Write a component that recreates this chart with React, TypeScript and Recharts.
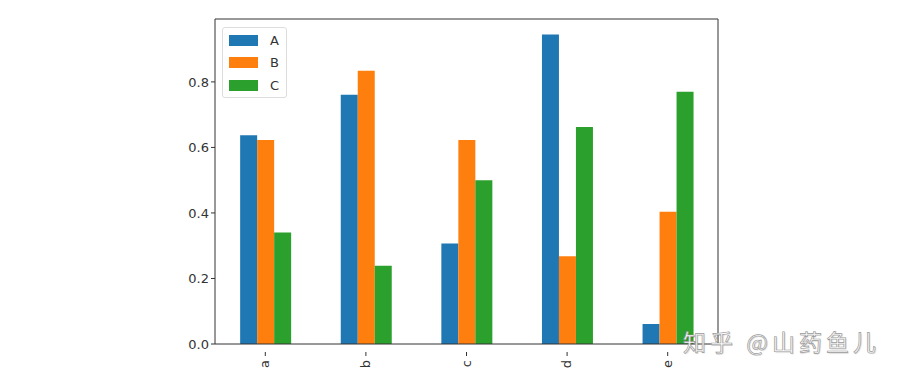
import React from 'react';
import {
  BarChart,
  Bar,
  XAxis,
  YAxis,
} from 'recharts';

const categories = ['a', 'b', 'c', 'd', 'e'];
const seriesA = [0.637, 0.761, 0.307, 0.945, 0.061];
const seriesB = [0.623, 0.834, 0.623, 0.268, 0.404];
const seriesC = [0.340, 0.239, 0.500, 0.662, 0.770];
const yTicks = [0, 0.2, 0.4, 0.6, 0.8];

const seriesNames = ['A', 'B', 'C'];
const colors = ['#1f77b4', '#ff7f0e', '#2ca02c'];

const data = categories.map((name, i) => ({
  name,
  A: seriesA[i],
  B: seriesB[i],
  C: seriesC[i],
}));

const FONT = '"DejaVu Sans", sans-serif';

const XTick = (props: any) => {
  const { x, y, payload } = props;
  return (
    <g transform={`translate(${x},${y})`}>
      <line x1={0} y1={0} x2={0} y2={4} stroke="#333" />
      <text
        transform="rotate(-90)"
        x={-8}
        y={4}
        textAnchor="end"
        fontSize={13}
        fontFamily={FONT}
        fill="#333"
      >
        {payload.value}
      </text>
    </g>
  );
};

// matplotlib style legend box in the upper left of the axes
const LegendBox = () => (
  <div
    style={{
      position: 'absolute',
      left: 222,
      top: 27,
      width: 65,
      height: 71,
      border: '1px solid #ddd',
      borderRadius: 3,
      background: '#fff',
      boxSizing: 'border-box',
      paddingTop: 1,
      fontFamily: FONT,
      fontSize: 13,
      color: '#333',
    }}
  >
    {seriesNames.map((n, i) => (
      <div key={n} style={{ display: 'flex', alignItems: 'center', height: 22.5 }}>
        <div style={{ width: 29, height: 11, background: colors[i], marginLeft: 6 }} />
        <span style={{ marginLeft: 12 }}>{n}</span>
      </div>
    ))}
  </div>
);

export default function App() {
  return (
    <div style={{ position: 'absolute', left: 0, top: 0, width: 900, height: 376, background: '#fff' }}>
      <BarChart
        width={900}
        height={376}
        data={data}
        margin={{ top: 18, right: 181, bottom: 0, left: 175 }}
        barCategoryGap="25%"
        barGap={0}
      >
        <XAxis
          dataKey="name"
          height={32}
          axisLine={{ stroke: '#333' }}
          tickLine={false}
          tick={<XTick />}
          interval={0}
        />
        <XAxis
          xAxisId="top"
          dataKey="name"
          orientation="top"
          height={1}
          axisLine={{ stroke: '#333' }}
          tickLine={false}
          tick={false}
        />
        <YAxis
          width={40}
          domain={[0, 0.992]}
          ticks={yTicks}
          tickFormatter={(v: number) => v.toFixed(1)}
          axisLine={{ stroke: '#333' }}
          tickLine={{ stroke: '#333' }}
          tickSize={4}
          tick={{ fontSize: 13, fontFamily: FONT, fill: '#333' }}
          allowDataOverflow
        />
        <YAxis
          yAxisId="right"
          orientation="right"
          width={1}
          axisLine={{ stroke: '#333' }}
          tickLine={false}
          tick={false}
        />
        <Bar dataKey="A" fill={colors[0]} isAnimationActive={false} />
        <Bar dataKey="B" fill={colors[1]} isAnimationActive={false} />
        <Bar dataKey="C" fill={colors[2]} isAnimationActive={false} />
      </BarChart>
      <LegendBox />
      <div
        style={{
          position: 'absolute',
          left: 683,
          top: 324,
          fontFamily: '"Noto Sans CJK SC", sans-serif',
          fontSize: 23,
          color: '#fff',
          WebkitTextStroke: '0.7px #999',
          textShadow: '1px 1px 1px rgba(0,0,0,0.15)',
          letterSpacing: 4,
          whiteSpace: 'nowrap',
        }}
      >
        知乎 @山药鱼儿
      </div>
    </div>
  );
}
